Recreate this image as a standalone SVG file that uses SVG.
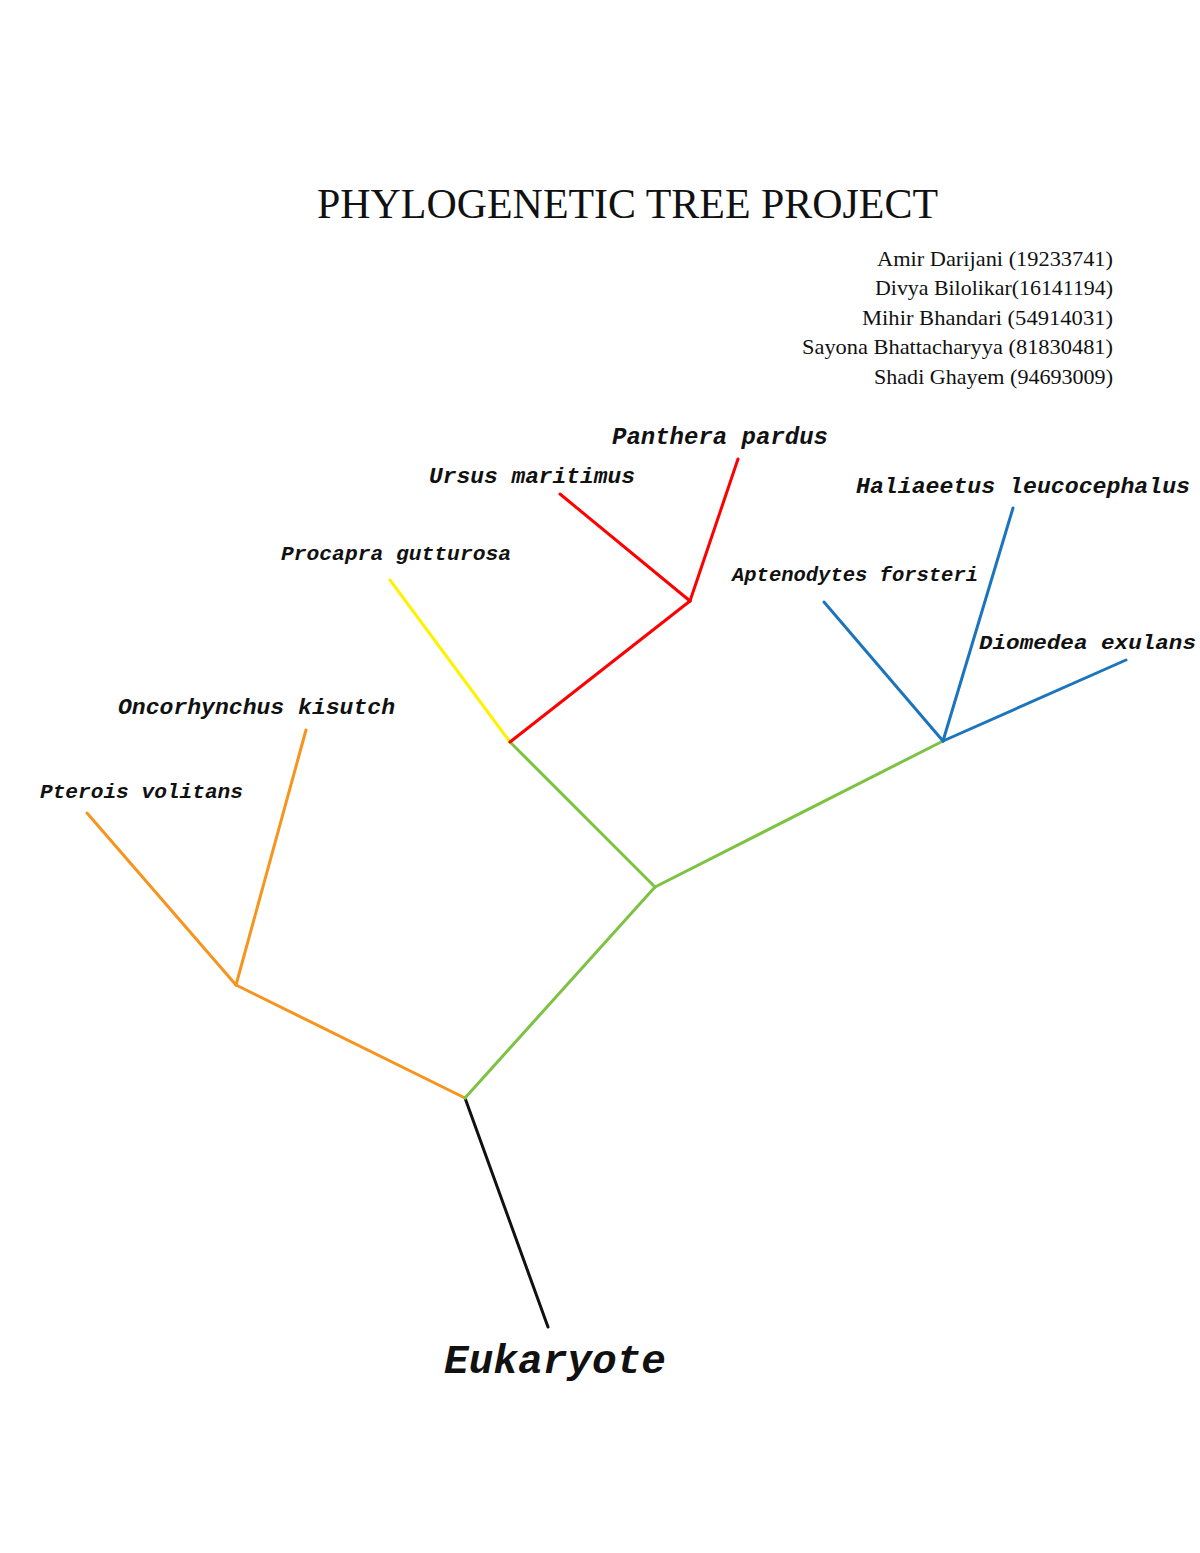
<svg xmlns="http://www.w3.org/2000/svg" width="1200" height="1553" viewBox="0 0 1200 1553">
<style>
.title{font-family:"Liberation Serif","Times New Roman",serif;font-size:42px;fill:#111;}
.name{font-family:"Liberation Serif","Times New Roman",serif;font-size:21px;fill:#111;text-anchor:end;}
.sp{font-family:"Liberation Mono","Courier New",monospace;font-weight:bold;font-style:italic;fill:#111;}
.br{fill:none;stroke-width:3;stroke-linecap:round;}
.black{stroke:#111;}
.orange{stroke:#F7941D;}
.green{stroke:#7DC242;}
.yellow{stroke:#FFF200;}
.red{stroke:#FF0000;}
.blue{stroke:#1C75BC;}
</style>
<rect width="1200" height="1553" fill="#fff"/>
<g id="header">
<text class="title" x="317" y="218" textLength="621" lengthAdjust="spacingAndGlyphs">PHYLOGENETIC TREE PROJECT</text>
<text class="name" x="1113" y="266" textLength="236" lengthAdjust="spacingAndGlyphs">Amir Darijani (19233741)</text>
<text class="name" x="1113" y="295" textLength="238" lengthAdjust="spacingAndGlyphs">Divya Bilolikar(16141194)</text>
<text class="name" x="1113" y="325" textLength="251" lengthAdjust="spacingAndGlyphs">Mihir Bhandari (54914031)</text>
<text class="name" x="1113" y="354" textLength="311" lengthAdjust="spacingAndGlyphs">Sayona Bhattacharyya (81830481)</text>
<text class="name" x="1113" y="384" textLength="239" lengthAdjust="spacingAndGlyphs">Shadi Ghayem (94693009)</text>
</g>
<g id="connectors">
<line class="br black" x1="465" y1="1098" x2="548" y2="1327"/>
<line class="br orange" x1="465" y1="1098" x2="236" y2="985"/>
<line class="br orange" x1="236" y1="985" x2="87" y2="813"/>
<line class="br orange" x1="236" y1="985" x2="306" y2="730"/>
<line class="br green" x1="465" y1="1098" x2="655" y2="887"/>
<line class="br green" x1="655" y1="887" x2="510" y2="742"/>
<line class="br green" x1="655" y1="887" x2="943" y2="741"/>
<line class="br yellow" x1="510" y1="742" x2="390" y2="580"/>
<line class="br red" x1="510" y1="742" x2="690" y2="601"/>
<line class="br red" x1="690" y1="601" x2="560" y2="494"/>
<line class="br red" x1="690" y1="601" x2="738" y2="459"/>
<line class="br blue" x1="943" y1="741" x2="824" y2="602"/>
<line class="br blue" x1="943" y1="741" x2="1013" y2="508"/>
<line class="br blue" x1="943" y1="741" x2="1126" y2="660"/>
</g>
<g id="node-eukaryote"><text class="sp" x="444" y="1373" font-size="40" textLength="222" lengthAdjust="spacingAndGlyphs">Eukaryote</text></g>
<g id="node-pterois"><text class="sp" x="40" y="798" font-size="21" textLength="203" lengthAdjust="spacingAndGlyphs">Pterois volitans</text></g>
<g id="node-oncorhynchus"><text class="sp" x="118" y="714" font-size="22" textLength="277" lengthAdjust="spacingAndGlyphs">Oncorhynchus kisutch</text></g>
<g id="node-procapra"><text class="sp" x="281" y="560" font-size="21" textLength="230" lengthAdjust="spacingAndGlyphs">Procapra gutturosa</text></g>
<g id="node-ursus"><text class="sp" x="429" y="483" font-size="22" textLength="206" lengthAdjust="spacingAndGlyphs">Ursus maritimus</text></g>
<g id="node-panthera"><text class="sp" x="612" y="444" font-size="23" textLength="216" lengthAdjust="spacingAndGlyphs">Panthera pardus</text></g>
<g id="node-haliaeetus"><text class="sp" x="856" y="493" font-size="22" textLength="334" lengthAdjust="spacingAndGlyphs">Haliaeetus leucocephalus</text></g>
<g id="node-aptenodytes"><text class="sp" x="732" y="581" font-size="20" textLength="246" lengthAdjust="spacingAndGlyphs">Aptenodytes forsteri</text></g>
<g id="node-diomedea"><text class="sp" x="979" y="649" font-size="21" textLength="217" lengthAdjust="spacingAndGlyphs">Diomedea exulans</text></g>
</svg>
